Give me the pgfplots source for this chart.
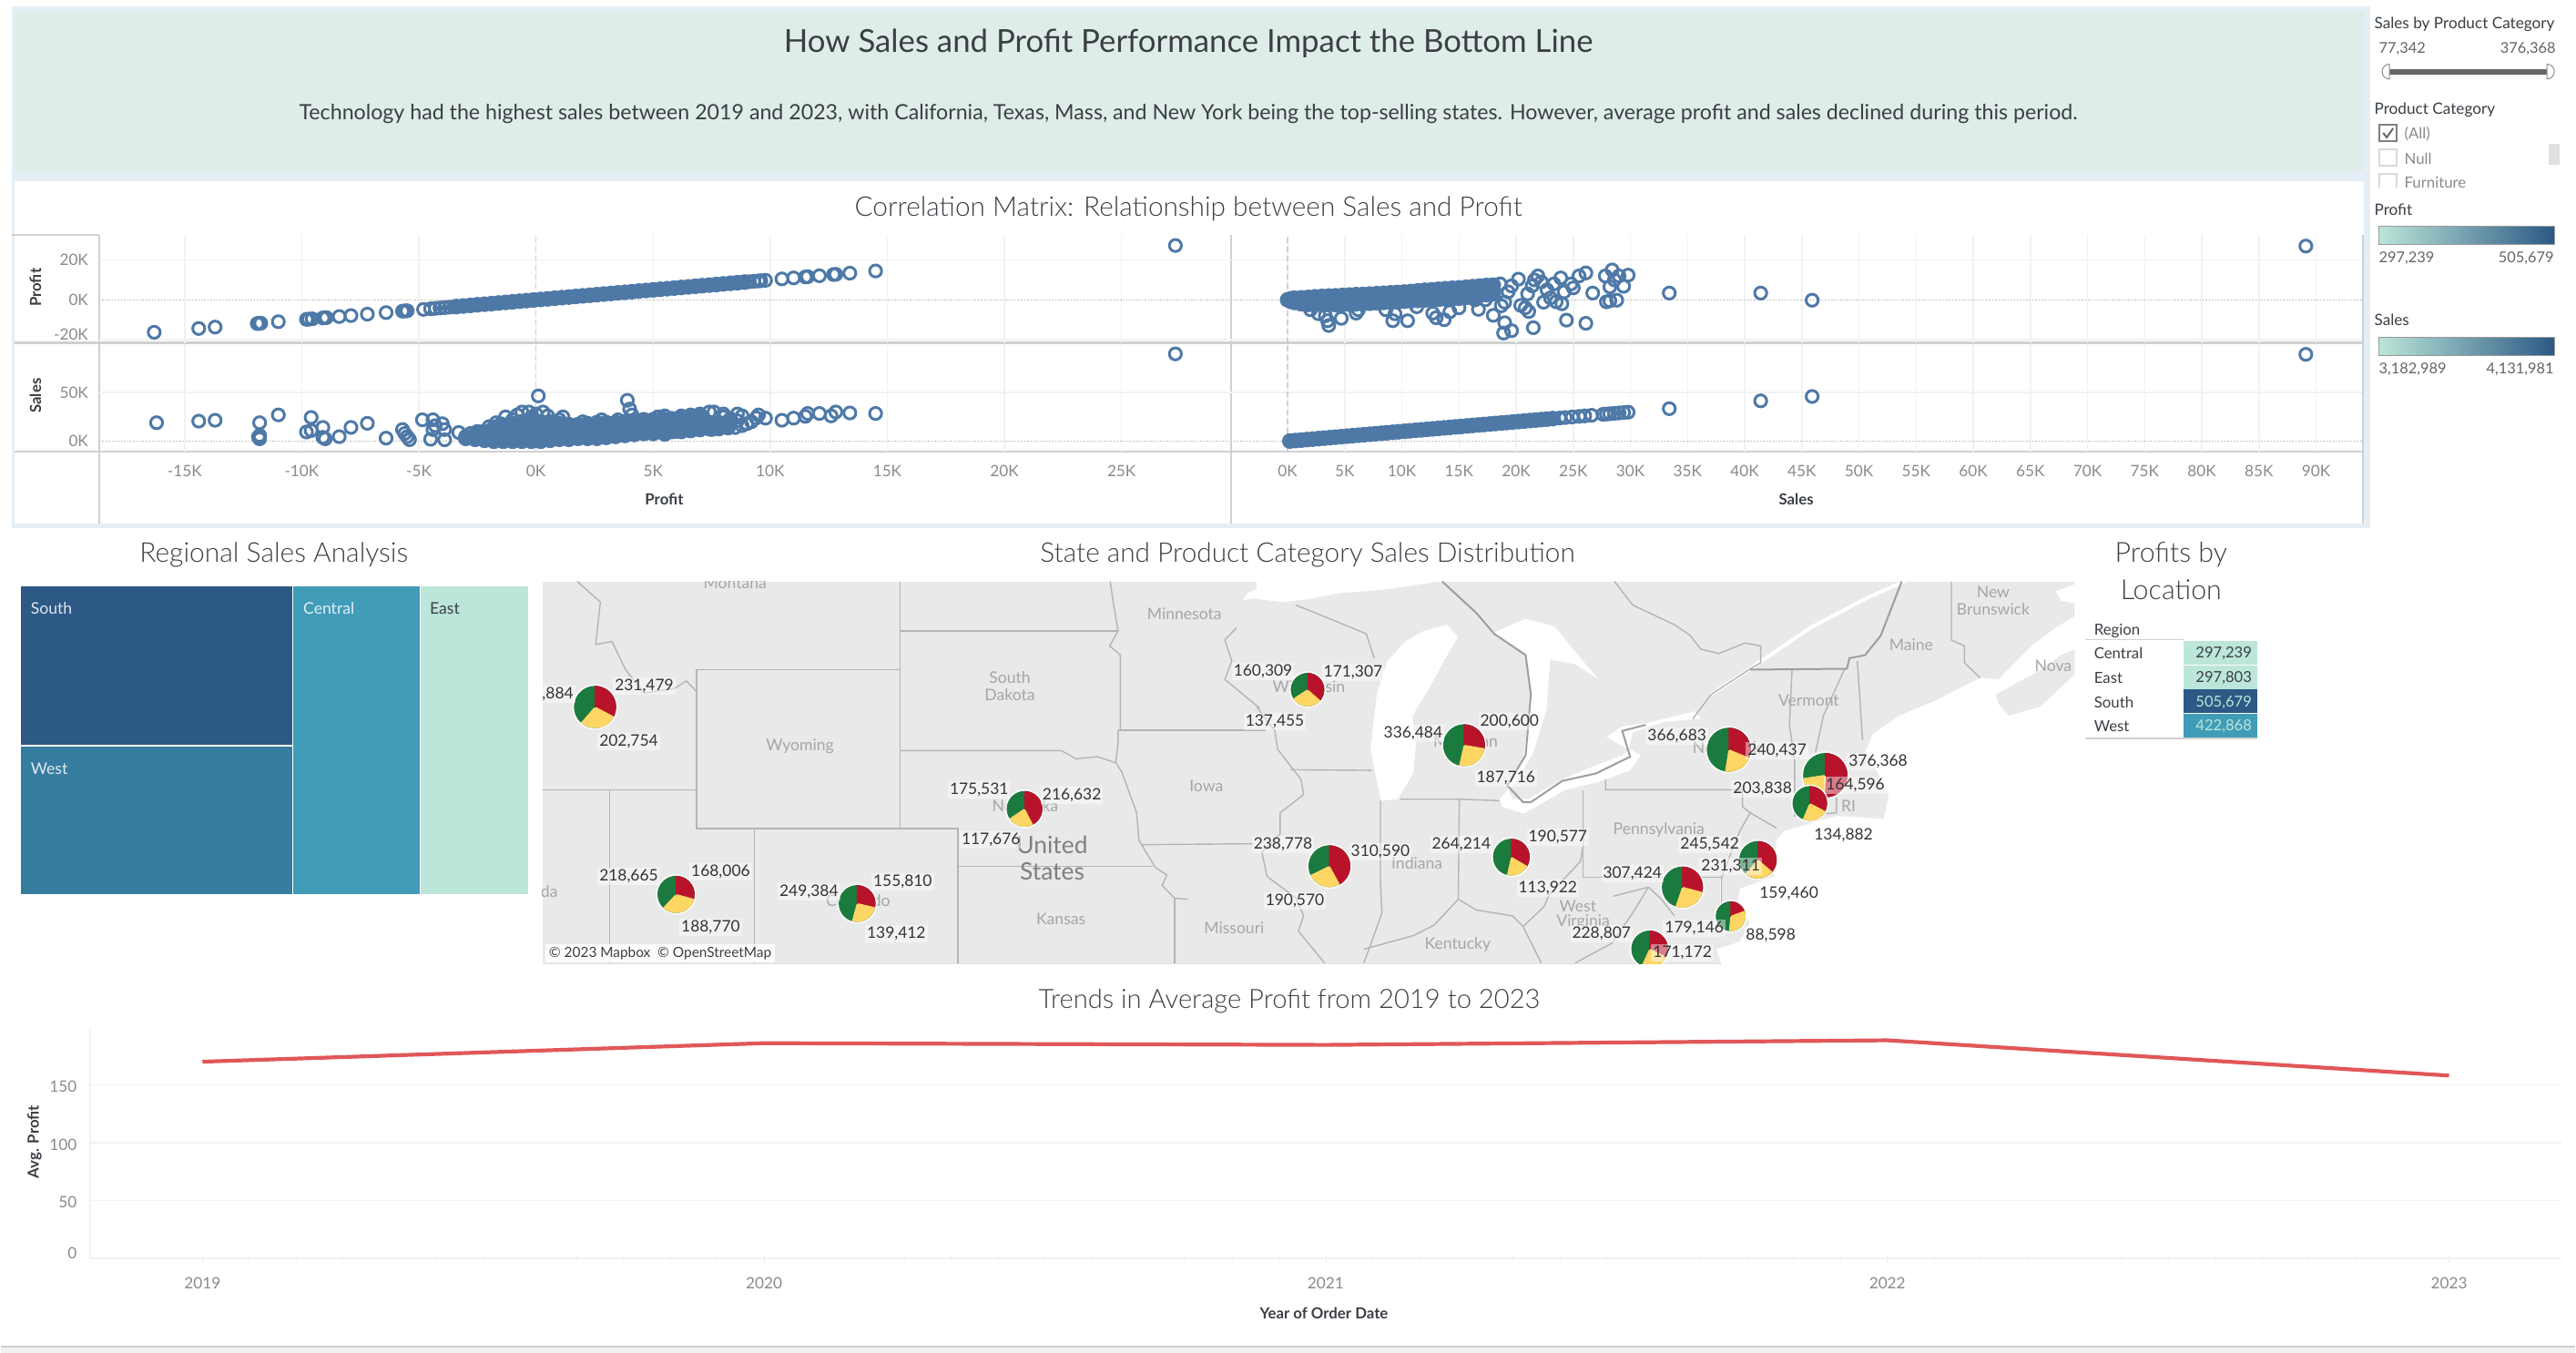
\documentclass[border=0pt]{standalone}
\usepackage{pgfplots}
\usepackage{pgfplotstable}
\usepackage{fontspec}
\pgfplotsset{compat=1.18}
\setmainfont{Lato}
\newfontfamily\lightf{Lato Light}

\definecolor{band}{HTML}{E6EEF5}
\definecolor{head}{HTML}{DFEDE8}
\definecolor{ttl}{HTML}{3B3F45}
\definecolor{tick}{HTML}{8A8A8A}
\definecolor{gridc}{HTML}{F2F2F2}
\definecolor{sep}{HTML}{D0D0D0}
\definecolor{dots}{HTML}{BDBDBD}
\definecolor{dotblue}{HTML}{4E79A7}
\definecolor{south}{HTML}{2C5985}
\definecolor{west}{HTML}{357CA0}
\definecolor{central}{HTML}{419CB8}
\definecolor{east}{HTML}{BCE6D9}
\definecolor{land}{HTML}{E9E9E9}
\definecolor{border}{HTML}{B4B4B4}
\definecolor{maptxt}{HTML}{A6A6A6}
\definecolor{piered}{HTML}{B9132C}
\definecolor{piegold}{HTML}{FDD663}
\definecolor{piegreen}{HTML}{1B7A3E}
\definecolor{linered}{HTML}{E15759}

% 1 pixel of the reference = 0.5pt
\newcommand{\rect}[5]{\addplot[fill=#1,draw=none] coordinates {(#2,#3)(#4,#3)(#4,#5)(#2,#5)} -- cycle;}
\newcommand{\rul}[6][sep]{\addplot[#1,line width=#6pt] coordinates {(#2,#3)(#4,#5)};}
\newcommand{\txt}[6][center]{\node[anchor=#1,inner sep=0pt,text=#4,font=#5] at (axis cs:#2,#3) {#6};}
\newcommand{\fs}[1]{\fontsize{#1}{#1}\selectfont}
\newcommand{\val}[3]{\node[fill=white,fill opacity=.45,text opacity=1,inner sep=1pt,text=black!80,font=\fs{8.7}] at (axis cs:#1,#2) {#3};}

\tikzset{mtxt/.style={anchor=center,inner sep=0pt,text=maptxt,font=\fs{8.8}}}
\pgfplotsset{
  canvas/.style={scale only axis,hide axis,anchor=north west,y dir=reverse},
  scat/.style={scale only axis,anchor=north west,
    axis line style={draw=none},tick style={draw=none},
    grid=major,grid style={gridc,line width=.7pt},
    tick label style={font=\fs{8.6},text=tick},
    yticklabel style={xshift=-2.5pt}},
  ring/.style={only marks,mark=o,mark size=3.3pt,mark options={dotblue,line width=1.5pt}},
  blob/.style={only marks,mark=*,mark size=4.1pt,mark options={dotblue,draw=none,fill=dotblue}},
  zero/.style={dots,line width=.7pt,densely dotted},
  zerox/.style={sep,line width=.6pt,densely dashed},
  bline/.style={border,line width=.7pt},
  tline/.style={black!38,line width=1pt},
  water/.style={fill=white,draw=none}
}

\begin{document}
\begin{tikzpicture}

% page, panels, treemap, table and the filter column
\begin{axis}[canvas,at={(0pt,0pt)},width=1414.5pt,height=743.5pt,xmin=0,xmax=2829,ymin=0,ymax=1487,clip=false]
\rect{white}{0}{0}{2829}{1487}
\rect{band}{12}{7}{2604}{580}
\rect{head}{15}{13}{2597}{188}
\rect{white}{15}{199}{2597}{575}
\rect{black!6}{0}{1481}{2829}{1487}
\rul{0}{1480}{2829}{1480}{1}

\txt{1305}{48}{ttl}{\fs{17.4}}{How Sales and Profit Performance Impact the Bottom Line}
\txt{1305}{125}{ttl}{\fs{11.6}}{Technology had the highest sales between 2019 and 2023, with California, Texas, Mass, and New York being the top-selling states. However, average profit and sales declined during this period.}
\txt{1305}{229}{ttl}{\lightf\fs{14.9}}{Correlation Matrix: Relationship between Sales and Profit}

% lines of the scatter matrix
\rul{12}{258}{108}{258}{.8}
\rul{15}{377}{2595}{377}{1.3}
\rul{15}{496}{2595}{496}{1}
\rul{108}{258}{108}{575}{.8}
\rul{1352}{258}{1352}{575}{.8}
\rul{2596}{258}{2596}{575}{.8}
\node[rotate=90,text=ttl,font=\bfseries\fs{8.4}] at (axis cs:38,316) {Profit};
\node[rotate=90,text=ttl,font=\bfseries\fs{8.4}] at (axis cs:38,435) {Sales};
\txt{729}{549}{ttl}{\bfseries\fs{8.4}}{Profit}
\txt{1973}{549}{ttl}{\bfseries\fs{8.4}}{Sales}

% treemap
\txt{300}{610}{ttl}{\lightf\fs{15}}{Regional Sales Analysis}
\rect{south}{22}{644}{320}{819}
\rect{west}{22}{820.5}{320}{983}
\rect{central}{321.5}{644}{460}{983}
\rect{east}{461}{644}{579}{983}
\txt[west]{32.5}{669}{white!85!south}{\fs{8.8}}{South}
\txt[west]{32.5}{845}{white!85!west}{\fs{8.8}}{West}
\txt[west]{332}{669}{white!85!central}{\fs{8.8}}{Central}
\txt[west]{471}{669}{ttl}{\fs{8.8}}{East}

% map backdrop and titles
\txt{1436}{610}{ttl}{\lightf\fs{14.9}}{State and Product Category Sales Distribution}
\rect{land}{595}{639}{2278}{1059}
\rul[black!12]{2278}{639}{2278}{1059}{.7}
\rul[black!12]{595}{1059.5}{2278}{1059.5}{.7}

% table
\txt{2385}{610}{ttl}{\lightf\fs{15.2}}{Profits by}
\txt{2385}{648}{ttl}{\lightf\fs{15.2}}{Location}
\rect{east}{2399}{704}{2480}{730.5}
\rect{east}{2399}{731.5}{2480}{757.5}
\rect{south}{2399}{758}{2480}{784}
\rect{central}{2399}{785}{2480}{811}
\rul{2291}{703}{2399}{703}{.7}
\rul{2291}{811.5}{2480}{811.5}{.7}
\txt[west]{2300}{693}{ttl}{\fs{8.4}}{Region}
\txt[west]{2300}{718}{ttl}{\fs{8.4}}{Central}
\txt[west]{2300}{745}{ttl}{\fs{8.4}}{East}
\txt[west]{2300}{772}{ttl}{\fs{8.4}}{South}
\txt[west]{2300}{798}{ttl}{\fs{8.4}}{West}
\txt[east]{2474}{718}{ttl}{\fs{8.3}}{297,239}
\txt[east]{2474}{745}{ttl}{\fs{8.3}}{297,803}
\txt[east]{2474}{772}{east}{\fs{8.3}}{505,679}
\txt[east]{2474}{798}{east}{\fs{8.3}}{422,868}

% filter column
\txt[west]{2608}{27}{ttl}{\fs{8.6}}{Sales by Product Category}
\txt[west]{2613}{54}{ttl!80}{\fs{8.2}}{77,342}
\txt[east]{2808}{54}{ttl!80}{\fs{8.2}}{376,368}
\rect{black!60}{2625}{76}{2798}{82}
\draw[black!45,fill=white,line width=.5pt] (axis cs:2625,70.5) arc[start angle=90,end angle=270,radius=4.1pt] -- cycle;
\draw[black!45,fill=white,line width=.5pt] (axis cs:2798,70.5) arc[start angle=90,end angle=-90,radius=4.1pt] -- cycle;
\txt[west]{2608}{121}{ttl}{\fs{8.6}}{Product Category}
\draw[black!50,line width=.8pt,fill=white] (axis cs:2614,137) rectangle (axis cs:2633,155);
\draw[black!60,line width=1pt] (axis cs:2618,146) -- (axis cs:2622,151) -- (axis cs:2629,141);
\draw[black!15,line width=.8pt] (axis cs:2614,164) rectangle (axis cs:2633,182);
\draw[black!15,line width=.8pt] (axis cs:2614,206) -- (axis cs:2614,191) -- (axis cs:2633,191) -- (axis cs:2633,206);
\txt[west]{2641}{147}{tick}{\fs{8.4}}{(All)}
\txt[west]{2641}{174}{tick}{\fs{8.4}}{Null}
\txt[west]{2641}{201}{tick}{\fs{8.4}}{Furniture}
\rect{black!12}{2800}{158}{2812}{181}
\txt[west]{2608}{230}{ttl}{\fs{8.6}}{Profit}
\shade[left color=east,middle color=central!90!black,right color=south] (axis cs:2613,249) rectangle (axis cs:2806,269);
\draw[black!40,line width=.5pt] (axis cs:2613,249) rectangle (axis cs:2806,269);
\txt[west]{2613}{284}{ttl!80}{\fs{8.2}}{297,239}
\txt[east]{2806}{284}{ttl!80}{\fs{8.2}}{505,679}
\txt[west]{2608}{351}{ttl}{\fs{8.6}}{Sales}
\shade[left color=east,middle color=central!90!black,right color=south] (axis cs:2613,371) rectangle (axis cs:2806,391);
\draw[black!40,line width=.5pt] (axis cs:2613,371) rectangle (axis cs:2806,391);
\txt[west]{2613}{406}{ttl!80}{\fs{8.2}}{3,182,989}
\txt[east]{2806}{406}{ttl!80}{\fs{8.2}}{4,131,981}

% line chart texts
\txt{1416}{1100}{ttl}{\lightf\fs{14.6}}{Trends in Average Profit from 2019 to 2023}
\node[rotate=90,text=ttl,font=\bfseries\fs{8.4}] at (axis cs:37,1255) {Avg. Profit};
\txt{1454}{1443}{ttl}{\bfseries\fs{8.4}}{Year of Order Date}
\end{axis}

% Profit against Profit
\begin{axis}[scat,at={(54pt,-129pt)},width=622pt,height=59.5pt,
  xmin=-18.65,xmax=29.68,ymin=-21.7,ymax=32.7,
  xtick={-15,-10,-5,0,5,10,15,20,25},xticklabels={},
  ytick={-20,0,20},yticklabels={\raisebox{6.2pt}{-20K},0K,20K}]
\addplot[zero] coordinates {(-18.65,0)(29.68,0)};
\addplot[zerox] coordinates {(0,-21.7)(0,32.7)};
\addplot[blob] table[row sep=\\,header=false,x index=0,y index=0] {
-3.4\\-3.1\\-2.8\\-2.5\\-2.2\\-1.9\\-1.6\\-1.3\\-1\\-0.7\\-0.4\\-0.1\\0.2\\0.5\\0.8\\1.1\\1.4\\1.7\\2\\2.3\\2.6\\2.9\\3.2\\3.5\\3.8\\4.1\\4.4\\4.7\\5\\5.3\\5.6\\5.9\\6.2\\6.5\\6.8\\7.1\\7.4\\7.7\\8\\8.3\\8.6\\8.9\\
};
\addplot[ring] table[row sep=\\,header=false,x index=0,y index=0] {
-16.3\\-14.4\\-13.7\\-11.9\\-11.85\\-11.8\\-11.75\\-11\\-9.8\\-9.7\\-9.55\\-9.1\\-9\\-8.95\\-8.4\\-7.9\\-7.2\\-6.4\\-5.7\\-5.6\\-5.5\\-4.8\\-4.5\\-4.3\\-4.1\\-3.9\\-3.7\\-3.5\\9.1\\9.3\\9.5\\9.6\\9.8\\10.5\\11\\11.5\\11.6\\12.1\\12.7\\12.8\\13.4\\14.5\\27.3\\
};
\end{axis}

% Sales against Profit
\begin{axis}[scat,at={(54pt,-189pt)},width=622pt,height=59pt,
  xmin=-18.65,xmax=29.68,ymin=-10.3,ymax=99.8,
  xtick={-15,-10,-5,0,5,10,15,20,25},
  xticklabels={-15K,-10K,-5K,0K,5K,10K,15K,20K,25K},
  xticklabel style={anchor=center,yshift=-11pt},
  ytick={0,50},yticklabels={0K,50K}]
\addplot[zero] coordinates {(-18.65,0)(29.68,0)};
\addplot[zerox] coordinates {(0,-10.3)(0,99.8)};
\addplot[blob] coordinates {
(-3,3)(-2.6,2)(-2.6,7)(-2.2,1)(-2.2,10)(-1.8,0)(-1.8,8)(-1.8,14)(-1.4,0)(-1.4,8)(-1.4,16)
(-1,0)(-1,9)(-1,18)(-0.6,0)(-0.6,10)(-0.6,20)(-0.2,0)(-0.2,10)(-0.2,20)(-0.2,24)
(0.2,0)(0.2,10)(0.2,20)(0.6,1)(0.6,10)(0.6,20)(1,2)(1,10)(1,18)(1.4,2)(1.4,10)(1.4,17)
(1.8,3)(1.8,10)(1.8,17)(2.2,3)(2.2,11)(2.2,18)(2.6,3)(2.6,11)(2.6,19)(3,4)(3,12)(3,19)
(3.4,5)(3.4,12)(3.4,19)(3.8,6)(3.8,13)(3.8,20)(4.2,7)(4.2,14)(4.2,21)(4.6,8)(4.6,15)(4.6,22)
(5,8)(5,15)(5,22)(5.4,9)(5.4,16)(5.4,23)(5.8,10)(5.8,17)(5.8,23)(6.2,10)(6.2,17)(6.2,24)
(6.6,11)(6.6,18)(6.6,24)(7,12)(7,18)(7,25)(7.4,13)(7.4,19)(7.8,13)(7.8,19)(8.2,14)(8.2,20)
};
\addplot[ring] coordinates {
(-16.2,19)(-14.4,20.6)(-13.7,21.5)(-11.8,19)(-11,27)(-11.85,4.4)(-11.8,2.5)(-11.8,6)(-9.6,24.4)
(-9.8,9.5)(-9.6,11)(-9.1,14.2)(-9,2.5)(-9.1,4)(-8.4,4.7)(-7.9,14.2)(-7.2,18.4)(-6.4,3.2)
(-5.7,12)(-5.5,4.7)(-5.4,1.6)(-5.6,8)(-4.85,22)(-4.4,22)(-4.5,2)(-4.4,12)(-4.3,16)(-4,18)(-3.9,12)(-3.9,1.5)
(-3.3,9)(-3,5)(-2.8,8)(-2.5,10)(-2,15)(-1.7,19)(-1.5,18)(-1.3,25)(-1,22)(-0.8,27)(-0.6,30)(-0.3,30)
(0,28)(0.3,30)(0.5,26)(0.1,46.5)(1.15,25)(1,22)(2,20)(2.8,22)(3.5,22)(3.9,42)(4,33)(4.1,27)
(5.2,25)(5.5,26)(6.2,26)(6.6,27)(7,28)(7.4,30)(7.6,30)(8,28)(8.6,28)(8.8,26)(9.5,27)(9.4,24)
(9,18)(8.8,16)(8.5,14)(9.2,20)(8.6,21)(7.5,12)(6,10)(5.5,7)(8,25)(8.3,23)(9.8,23.7)
(10.5,21.5)(11,23.7)(11.5,25.5)(11.6,28.5)(12.1,28.5)(12.6,26)(12.8,30)(13.4,29)(14.5,28.5)
(27.3,89.6)
};
\end{axis}

% Profit against Sales
\begin{axis}[scat,at={(676pt,-129pt)},width=621.5pt,height=59.5pt,
  xmin=-4.94,xmax=94.03,ymin=-21.7,ymax=32.7,
  xtick={0,5,...,90},xticklabels={},ytick={-20,0,20},yticklabels={}]
\addplot[zero] coordinates {(-4.94,0)(94.03,0)};
\addplot[zerox] coordinates {(0,-21.7)(0,32.7)};
\addplot[blob] coordinates {
(0,0)(0.3,-0.8)(0.3,0.5)(0.6,-1.3)(0.6,0.8)(1.2,-2)(1.2,1)(1.8,-2.3)(1.8,1.2)(2.4,-2.4)(2.4,1.5)
(3,-2.4)(3,1.7)(3.6,-2.4)(3.6,1.9)(4.2,-2.4)(4.2,2)(4.8,-2.3)(4.8,2.2)(5.4,-2.2)(5.4,2.4)
(6,-2)(6,2.6)(6.6,-1.9)(6.6,2.7)(7.2,-1.7)(7.2,2.9)(7.8,-1.5)(7.8,3.1)(8.4,-1.3)(8.4,3.3)
(9,-1.1)(9,3.5)(9.6,-0.9)(9.6,3.7)(10.2,-0.7)(10.2,3.9)(10.8,-0.5)(10.8,4.2)(11.4,-0.3)(11.4,4.5)
(12,-0.1)(12,4.8)(12.6,0.1)(12.6,5)(13.2,0.3)(13.2,5.3)(13.8,0.5)(13.8,5.6)(14.4,0.6)(14.4,5.8)
(15,0.8)(15,6)(15.6,1.2)(15.6,6.3)(16.2,1.6)(16.2,6.6)(16.8,2.2)(16.8,6.9)(17.4,2.6)(17.4,7.2)(18,3)(18,7.4)
};
\addplot[ring] coordinates {
(2,-5)(2.7,-7)(3.5,-10.5)(3.6,-12.9)(3.3,-8)(4.7,-9.3)(6,-6.7)(6.2,-5)(8.6,-5)(9.2,-10.5)(9.4,-7)(10.5,-10.5)
(11.3,-3.5)(12.7,-6.7)(13,-9)(13.7,-10)(14.2,-6)(15,-4)(16.7,-4.8)(16.4,0)(17.3,0)(18,-7.8)(18.7,-3)
(18.9,-16.7)(19,-11.5)(19.6,-15.5)(19,-1.2)(19.3,4)(18.6,8)(19.6,7)(20.2,10.4)(20.4,-2.8)(21.1,-5.9)(20.8,-4)
(21.5,-14)(21,3)(21.4,7)(21.9,12)(21.6,10)(22.2,9)(22.4,-1.2)(22.7,5)(23.3,8)(23,1)(23.5,-1)(24,-2)(23.9,11)(24.4,-10.2)
(24.2,4)(24.8,8)(25,6)(25.5,12)(26.1,13.5)(26.1,-11.8)(26.7,3.4)(27.8,12)(27.9,-1)(28.2,-0.5)(28.2,6.5)(28.4,15)
(28.6,10)(29,12)(29.4,6.8)(28.8,-0.2)(29.8,12.4)
(33.4,3.4)(41.4,3.4)(45.9,-0.2)(89.1,27)
};
\end{axis}

% Sales against Sales
\begin{axis}[scat,at={(676pt,-189pt)},width=621.5pt,height=59pt,
  xmin=-4.94,xmax=94.03,ymin=-10.3,ymax=99.8,
  xtick={0,5,...,90},
  xticklabels={0K,5K,10K,15K,20K,25K,30K,35K,40K,45K,50K,55K,60K,65K,70K,75K,80K,85K,90K},
  xticklabel style={anchor=center,yshift=-11pt},
  ytick={0,50},yticklabels={}]
\addplot[zero] coordinates {(-4.94,0)(94.03,0)};
\addplot[zerox] coordinates {(0,-10.3)(0,99.8)};
\addplot[blob] table[row sep=\\,header=false,x index=0,y index=0] {
0.2\\0.7\\1.2\\1.7\\2.2\\2.7\\3.2\\3.7\\4.2\\4.7\\5.2\\5.7\\6.2\\6.7\\7.2\\7.7\\8.2\\8.7\\9.2\\9.7\\10.2\\10.7\\11.2\\11.7\\12.2\\12.7\\13.2\\13.7\\14.2\\14.7\\15.2\\15.7\\16.2\\16.7\\17.2\\17.7\\18.2\\18.7\\19.2\\19.7\\20.2\\20.7\\21.2\\21.7\\22.2\\22.7\\23.2\\
};
\addplot[ring] table[row sep=\\,header=false,x index=0,y index=0] {
23.8\\24.3\\24.9\\25.5\\26\\26.6\\27.6\\27.9\\28.2\\28.6\\29\\29.4\\29.8\\33.4\\41.4\\45.9\\89.1\\
};
\end{axis}

% line chart
\begin{axis}[scale only axis,anchor=north west,at={(49pt,-565pt)},width=1358pt,height=126.5pt,
  xmin=2018.8,xmax=2023.2,ymin=0,ymax=199,
  axis x line=bottom,axis y line=left,axis line style={-,gridc,line width=.7pt},
  xtick={2019,2020,2021,2022,2023},xticklabels={2019,2020,2021,2022,2023},
  minor x tick num=11,tickwidth=3.5pt,subtickwidth=1.8pt,
  x tick style={black!10,line width=.4pt},minor x tick style={black!10,line width=.4pt},
  ytick={0,50,100,150},yticklabels={\raisebox{7.7pt}{0},50,100,150},ytick style={draw=none},
  ymajorgrids,grid style={gridc,line width=.8pt},
  tick label style={font=\fs{8.6},text=tick},
  xticklabel style={anchor=center,yshift=-12pt},yticklabel style={xshift=-2pt,yshift=-1pt}]
\addplot[linered,line width=2.1pt,line join=round] coordinates {
(2019,170)(2020,186)(2021,184.5)(2022,188.5)(2023,158)};
\end{axis}

% map, eastern part, in the pixels of a 1568 wide crop
\begin{axis}[canvas,at={(690pt,-319.5pt)},width=449.5pt,height=210pt,xmin=0,xmax=1566,ymin=27,ymax=1287]
\addplot[water] coordinates {(0,85)(50,95)(100,85)(160,65)(240,55)(300,40)(350,27)(0,27)} -- cycle;
\addplot[water] coordinates {(365,170)(320,190)(285,225)(250,290)(230,400)(218,580)(232,700)(238,750)(270,745)(300,660)(305,560)(298,470)(330,380)(355,300)(385,210)} -- cycle;
\addplot[water] coordinates {(455,195)(515,150)(570,175)(620,280)(655,350)(610,300)(562,285)(555,450)(530,590)(500,680)(465,745)(470,770)(512,793)(590,715)(655,688)(715,650)(735,600)(715,580)(700,600)(640,640)(585,680)(520,745)(490,745)(478,700)(510,610)(527,400)(515,270)} -- cycle;
\addplot[water] coordinates {(670,540)(700,505)(745,495)(840,455)(850,480)(780,490)(745,510)(720,525)(712,580)(690,560)} -- cycle;
\addplot[white,line width=2pt] coordinates {(870,400)(945,315)(1000,250)(1060,180)(1170,80)(1240,27)};
\addplot[water] coordinates {(1568,140)(1530,180)(1490,230)(1420,350)(1385,345)(1300,420)(1230,470)(1180,530)(1165,590)(1190,660)(1210,735)(1200,810)(1110,800)(1010,850)(995,880)(990,1000)(925,1040)(920,1100)(945,1150)(925,1215)(880,1240)(890,1290)(1568,1290)} -- cycle;
\addplot[fill=land,draw=none] coordinates {(1415,400)(1500,320)(1540,270)(1568,250)(1568,330)(1500,440)(1440,470)(1420,430)} -- cycle;
\addplot[water] coordinates {(1530,60)(1568,35)(1568,100)(1540,90)} -- cycle;
\addplot[white,line width=1.5pt] coordinates {(890,1010)(890,1100)};

\addplot[bline] coordinates {(75,105)(140,150)(210,200)(225,280)};
\addplot[bline] coordinates {(0,440)(35,520)(40,580)(85,680)(90,730)(45,790)(45,860)(10,920)(20,1000)(75,1070)(90,1130)(80,1180)(130,1285)};
\addplot[bline] coordinates {(65,648)(220,650)};
\addplot[bline] coordinates {(275,745)(388,745)(465,750)};
\addplot[bline] coordinates {(237,750)(237,1020)(240,1120)(215,1240)(205,1285)};
\addplot[bline] coordinates {(388,745)(386,1075)(340,1160)(300,1195)(205,1240)};
\addplot[bline] coordinates {(386,1075)(420,1110)(490,1130)(510,1165)(545,1285)};
\addplot[bline] coordinates {(510,1165)(550,1100)(560,1060)(620,950)(625,900)};
\addplot[bline] coordinates {(625,715)(625,1003)(660,1003)(890,1003)};
\addplot[bline] coordinates {(668,680)(668,714)(930,714)(930,770)(945,790)(995,840)};
\addplot[bline] coordinates {(945,790)(925,850)(890,1003)(890,1090)};
\addplot[bline] coordinates {(683,1065)(750,1035)(775,1075)(800,1130)};
\addplot[bline] coordinates {(610,1285)(680,1220)(720,1120)(750,1035)};
\addplot[bline] coordinates {(1025,318)(1020,500)(1030,620)(1030,800)(1110,790)(1110,740)};
\addplot[bline] coordinates {(1125,318)(1085,470)(1070,590)};
\addplot[bline] coordinates {(1150,290)(1160,550)};
\addplot[bline] coordinates {(1330,27)(1330,220)(1355,240)(1355,295)(1385,345)};
\addplot[bline] coordinates {(685,27)(720,105)(800,170)(830,205)(850,250)(885,265)(935,230)(965,240)(965,295)(945,315)};
\addplot[tline] coordinates {(355,27)(420,130)(455,200)(515,270)(525,400)(515,600)(480,700)(510,755)(525,755)(585,685)(650,660)(715,605)(700,520)(745,500)};
\addplot[bline] coordinates {(835,480)(870,400)(945,315)};
\addplot[tline] coordinates {(945,318)(1130,315)(1135,280)(1165,270)(1195,205)(1235,27)};

\node[mtxt] at (axis cs:1410,62) {New};
\node[mtxt] at (axis cs:1410,118) {Brunswick};
\node[mtxt] at (axis cs:1253,237) {Maine};
\node[mtxt] at (axis cs:1525,305) {Nova};
\node[mtxt] at (axis cs:1057,418) {Vermont};
\node[mtxt] at (axis cs:1133,767) {RI};
\node[mtxt] at (axis cs:770,845) {Pennsylvania};
\node[mtxt] at (axis cs:307,957) {Indiana};
\node[mtxt] at (axis cs:615,1097) {West};
\node[mtxt] at (axis cs:625,1150) {Virginia};
\node[mtxt] at (axis cs:385,1225) {Kentucky};
\node[mtxt] at (axis cs:100,373) {Wisconsin};
\node[mtxt] at (axis cs:400,560) {Michigan};
\node[mtxt] at (axis cs:900,575) {New York};
\end{axis}

% map, western part, in the pixels of a 1568 wide crop
\begin{axis}[canvas,at={(297.5pt,-319.5pt)},width=397.5pt,height=210pt,xmin=10,xmax=1568,ymin=27,ymax=1287]
\addplot[water] coordinates {(1518,90)(1530,65)(1568,40)(1568,80)(1530,85)} -- cycle;
\addplot[bline] coordinates {(342,318)(780,318)(780,842)(342,842)(342,318)};
\addplot[bline] coordinates {(780,27)(780,318)};
\addplot[bline] coordinates {(780,190)(1250,190)};
\addplot[bline] coordinates {(1233,27)(1240,100)(1250,190)(1232,240)(1255,270)(1255,518)};
\addplot[bline] coordinates {(780,585)(1128,585)(1160,612)(1205,605)(1245,625)};
\addplot[bline] coordinates {(1250,518)(1568,518)};
\addplot[bline] coordinates {(1250,518)(1250,560)(1245,625)(1258,655)(1290,790)(1295,880)(1330,970)(1355,995)(1345,1030)(1372,1072)(1400,1075)};
\addplot[bline] coordinates {(467,842)(467,1287)};
\addplot[bline] coordinates {(467,842)(905,842)(905,1287)};
\addplot[bline] coordinates {(905,967)(1325,967)};
\addplot[bline] coordinates {(1300,895)(1540,892)};
\addplot[bline] coordinates {(1372,1072)(1372,1287)};
\addplot[bline] coordinates {(85,27)(135,95)(125,235)(160,225)(190,320)(230,395)(295,380)(320,355)(342,390)};
\addplot[bline] coordinates {(10,714)(342,714)};
\addplot[bline] coordinates {(155,714)(155,1287)};
\addplot[bline] coordinates {(1505,180)(1480,220)(1495,290)(1480,350)(1555,445)};

\node[mtxt] at (axis cs:425,33) {Montana};
\node[mtxt] at (axis cs:1393,135) {Minnesota};
\node[mtxt] at (axis cs:1017,345) {South};
\node[mtxt] at (axis cs:1017,400) {Dakota};
\node[mtxt] at (axis cs:565,572) {Wyoming};
\node[mtxt] at (axis cs:1440,702) {Iowa};
\node[mtxt] at (axis cs:1127,1140) {Kansas};
\node[mtxt] at (axis cs:1500,1170) {Missouri};
\node[mtxt] at (axis cs:1050,767) {Nebraska};
\node[mtxt] at (axis cs:690,1080) {Colorado};
\node[mtxt] at (axis cs:25,1050) {da};
\node[mtxt,text=black!50,font=\fs{13.2}] at (axis cs:1108,895) {United};
\node[mtxt,text=black!50,font=\fs{13.2}] at (axis cs:1108,982) {States};
\end{axis}

% pies: x, y, radius in pt, then red, gold, green in thousands
\pgfplotstableread{
x    y    R     vred    vgold   vgreen
653  777  11.4  231.479 202.754 272.884
742  983  10.0  168.006 188.770 218.665
941  993  9.9   155.810 139.412 249.384
1125 889  9.6   216.632 117.676 175.531
1436 758  9.0   171.307 137.455 160.309
1608 819  11.3  200.600 187.716 336.484
1899 824  11.9  240.437 165.000 366.683
2005 852  12.0  376.368 164.596 203.838
1988 883  9.3   187.000 134.882 249.000
1460 952  11.3  310.590 190.570 238.778
1660 942  9.9   190.577 113.922 264.214
1931 945  10.1  231.311 159.460 245.542
1848 975  11.1  200.000 179.146 307.424
1901 1007 8.0   54.000  88.598  135.000
1812 1043 9.9   171.172 130.000 228.807
}\pietable
\begin{axis}[canvas,at={(297.5pt,-319.5pt)},width=841.5pt,height=210pt,xmin=595,xmax=2278,ymin=639,ymax=1059,clip marker paths=true]
\addplot[scatter,only marks,mark=*,mark size=.01pt,mark options={draw=none,fill=none},
  point meta=y,
  visualization depends on={\thisrow{R}\as\vR},
  visualization depends on={\thisrow{vred}\as\vA},
  visualization depends on={\thisrow{vgold}\as\vB},
  visualization depends on={\thisrow{vgreen}\as\vC},
  scatter/@pre marker code/.code={%
    \pgfmathsetmacro\angA{90-360*(\vA/(\vA+\vB+\vC))}%
    \pgfmathsetmacro\angB{\angA-360*(\vB/(\vA+\vB+\vC))}%
    \fill[white,opacity=.75] (0:0pt) circle[radius=\vR pt+.9pt];%
    \fill[piegreen] (0:0pt) circle[radius=\vR pt];%
    \fill[piered] (0:0pt) -- (90:\vR pt) arc[start angle=90,end angle=\angA,radius=\vR pt] -- cycle;%
    \fill[piegold] (0:0pt) -- (\angA:\vR pt) arc[start angle=\angA,end angle=\angB,radius=\vR pt] -- cycle;%
  },
  scatter/@post marker code/.code={}]
  table[x=x,y=y] {\pietable};

\val{612}{763}{,884}
\val{707}{754}{231,479}
\val{690}{815}{202,754}
\val{690}{963}{218,665}
\val{791}{958}{168,006}
\val{780}{1019}{188,770}
\val{888}{980}{249,384}
\val{991}{969}{155,810}
\val{984}{1026}{139,412}
\val{1075}{868}{175,531}
\val{1177}{874}{216,632}
\val{1088}{923}{117,676}
\val{1387}{738}{160,309}
\val{1486}{739}{171,307}
\val{1400}{793}{137,455}
\val{1552}{806}{336,484}
\val{1658}{793}{200,600}
\val{1654}{855}{187,716}
\val{1842}{809}{366,683}
\val{1952}{825}{240,437}
\val{2063}{837}{376,368}
\val{2038}{863}{164,596}
\val{1936}{867}{203,838}
\val{2025}{918}{134,882}
\val{1409}{928}{238,778}
\val{1516}{936}{310,590}
\val{1422}{990}{190,570}
\val{1605}{928}{264,214}
\val{1711}{920}{190,577}
\val{1700}{976}{113,922}
\val{1878}{928}{245,542}
\val{1901}{952}{231,311}
\val{1965}{982}{159,460}
\val{1793}{960}{307,424}
\val{1861}{1020}{179,146}
\val{1945}{1028}{88,598}
\val{1759}{1026}{228,807}
\val{1848}{1047}{171,172}
\node[anchor=west,fill=white,fill opacity=.85,text opacity=1,inner xsep=2pt,inner ysep=1.5pt,text=ttl,font=\fs{7.7}] at (axis cs:598,1048) {© 2023 Mapbox\ \ © OpenStreetMap};
\end{axis}

% the map's top edge cuts the state name that runs over it
\begin{axis}[canvas,at={(0pt,0pt)},width=1414.5pt,height=743.5pt,xmin=0,xmax=2829,ymin=0,ymax=1487,clip=false]
\rect{white}{700}{624}{900}{638.5}
\end{axis}
\end{tikzpicture}
\end{document}
